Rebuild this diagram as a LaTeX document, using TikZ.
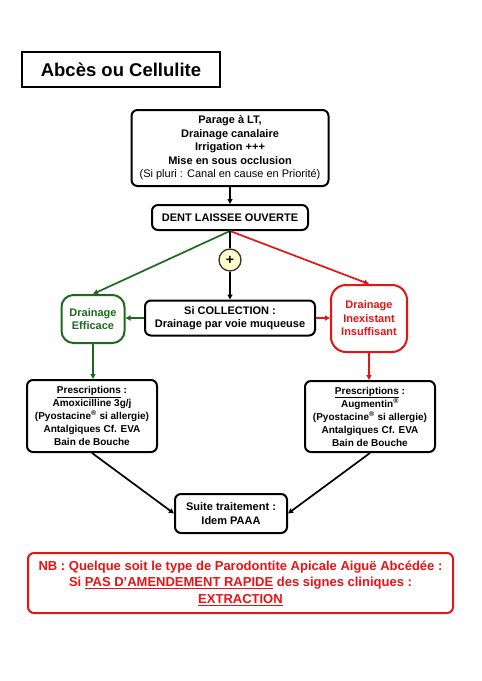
\documentclass[tikz,border=0pt]{standalone}
\usepackage{fontspec}
\setmainfont{Liberation Sans}
\usetikzlibrary{arrows.meta}
\definecolor{dgreen}{RGB}{30,105,30}
\definecolor{dred}{RGB}{230,20,20}
\definecolor{pale}{RGB}{255,255,204}
\tikzset{
  box/.style={draw=black, line width=2pt, rounded corners=6pt, fill=white, align=center, inner sep=0pt, font=\bfseries\fontsize{11}{13.5}\selectfont},
  prbox/.style={box, font=\bfseries\fontsize{10}{13}\selectfont},
  gbox/.style={box, draw=dgreen, text=dgreen, rounded corners=12pt, font=\bfseries\fontsize{11}{13}\selectfont},
  rbox/.style={box, draw=dred, text=dred, rounded corners=15pt, font=\bfseries\fontsize{11}{13.5}\selectfont},
  arr/.style={line width=1.7pt, -{Triangle[length=5pt,width=5pt]}},
  ln/.style={line width=1.7pt}
}
\begin{document}
\begin{tikzpicture}[x=1pt,y=-1pt]
\useasboundingbox (0,0) rectangle (482,681);
\node[draw=black, line width=2.4pt, minimum width=198pt, minimum height=35pt, inner sep=0pt, font=\bfseries\fontsize{18.5}{20}\selectfont] (title) at (121,69.5) {Abcès ou Cellulite};
\node[box, minimum width=197pt, minimum height=76pt] (top) at (230,148) {Parage à LT,\\Drainage canalaire\\Irrigation +++\\Mise en sous occlusion\\{\mdseries (Si pluri : Canal en cause en Priorité)}};
\node[box, minimum width=156pt, minimum height=25pt] (dent) at (230,217.5) {DENT LAISSEE OUVERTE};
\node[draw=black!80, line width=1.3pt, fill=pale, circle, minimum size=22pt, inner sep=0pt, font=\bfseries\fontsize{14}{14}\selectfont] (plus) at (230,260) {+};
\node[box, minimum width=170pt, minimum height=35pt] (coll) at (230,318) {Si COLLECTION :\\Drainage par voie muqueuse};
\node[gbox, minimum width=63pt, minimum height=48pt] (de) at (93,319) {Drainage\\Efficace};
\node[rbox, minimum width=76pt, minimum height=67pt] (di) at (369,318.5) {Drainage\\Inexistant\\Insuffisant};
\node[prbox, minimum width=130pt, minimum height=72pt] (pl) at (92,416) {\underline{Prescriptions} :\\Amoxicilline 3g/j\\(Pyostacine\textsuperscript{®} si allergie)\\Antalgiques Cf. EVA\\Bain de Bouche};
\node[prbox, minimum width=130pt, minimum height=71pt] (pr) at (370,416.5) {\underline{Prescriptions} :\\Augmentin\textsuperscript{®}\\(Pyostacine\textsuperscript{®} si allergie)\\Antalgiques Cf. EVA\\Bain de Bouche};
\node[box, minimum width=112pt, minimum height=39pt] (suite) at (231,513.5) {Suite traitement :\\Idem PAAA};
\node[box, draw=dred, text=dred, minimum width=425pt, minimum height=60pt, font=\bfseries\fontsize{13}{16.5}\selectfont] (nb) at (240.5,583) {NB : Quelque soit le type de Parodontite Apicale Aiguë Abcédée :\\Si \underline{PAS D’AMENDEMENT RAPIDE} des signes cliniques :\\\underline{EXTRACTION}};
\coordinate (j) at (dent.south);
\draw[arr] (top.south) -- (top.south |- dent.north);
\draw[arr, dgreen] (j) -- (de.north);
\draw[arr, dred] (j) -- (di.north);
\draw[ln] (j) -- (plus.north);
\draw[arr] (plus.south) -- (coll.north);
\draw[arr, dgreen] (coll.west) -- (coll.west -| de.east);
\draw[arr, dred] (coll.east) -- (coll.east -| di.west);
\draw[arr, dgreen] (de.south) -- (de.south |- pl.north);
\draw[arr, dred] (di.south) -- (di.south |- pr.north);
\draw[arr] (pl.south) -- (suite.west);
\draw[arr] (pr.south) -- (suite.east);
\end{tikzpicture}
\end{document}
